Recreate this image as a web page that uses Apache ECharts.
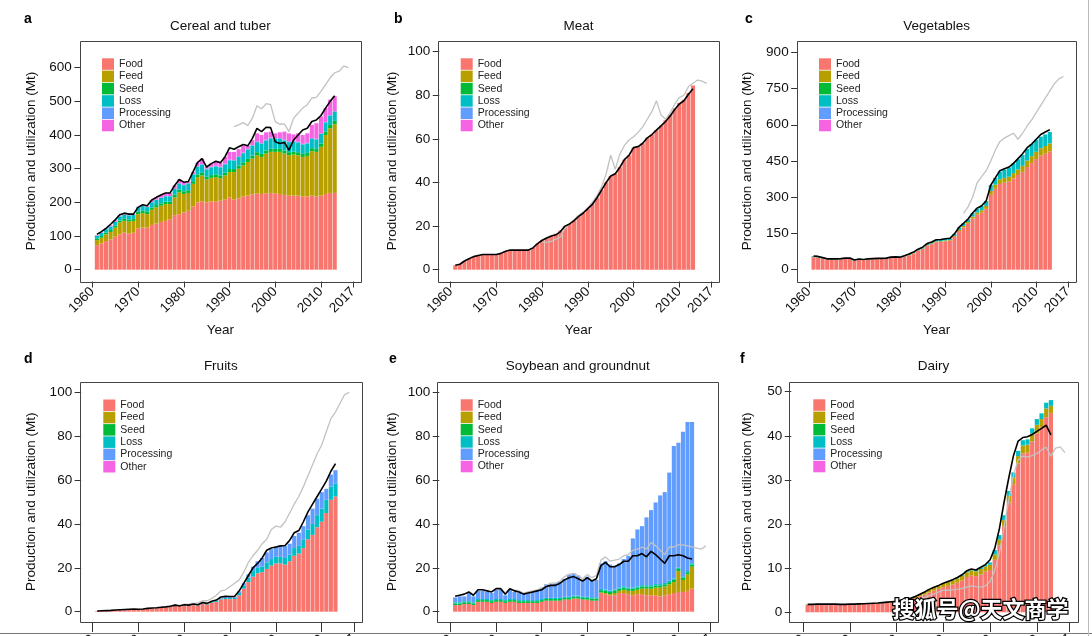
<!DOCTYPE html>
<html><head><meta charset="utf-8">
<script src="https://cdn.jsdelivr.net/npm/echarts@6/dist/echarts.min.js"></script>
<style>html,body{margin:0;padding:0;background:#fff}#c{width:1092px;height:636px}</style>
</head><body><div id="c"></div>
<script>
// ---------- categories & tick labels ----------
const YEARS = [1961,1962,1963,1964,1965,1966,1967,1968,1969,1970,1971,1972,1973,1974,1975,1976,1977,1978,1979,1980,
 1981,1982,1983,1984,1985,1986,1987,1988,1989,1990,1991,1992,1993,1994,1995,1996,1997,1998,1999,2000,
 2001,2002,2003,2004,2005,2006,2007,2008,2009,2010,2011,2012,2013,2014,2015,2016];
// category slots of the bar axis (one per year, 1958-2018)
const AXIS_YEARS = ['1958','1959','1960'].concat(YEARS.map(String), ['2017','2018']);
const CATS = ['Food','Feed','Seed','Loss','Processing','Other'];
const X_TICKS = [1960,1970,1980,1990,2000,2010,2017];
const A_TICKS = [0,100,200,300,400,500,600];
const B_TICKS = [0,20,40,60,80,100];
const C_TICKS = [0,150,300,450,600,750,900];
const D_TICKS = [0,20,40,60,80,100];
const E_TICKS = [0,20,40,60,80,100];
const F_TICKS = [0,10,20,30,40,50];

// ---------- a: Cereal and tuber (bars 1961-2013) ----------
const A_food = [73,78,85,90,98,105,110,108,110,122,125,125,133,137,142,145,150,162,165,170,175,188,200,203,200,203,202,205,208,215,208,212,218,220,224,226,225,227,228,227,225,222,220,220,220,217,218,220,218,220,225,228,228];
const A_feed = [15,17,20,22,27,35,35,35,35,43,43,40,45,48,48,50,45,53,65,55,53,67,75,77,68,70,73,67,72,75,82,88,92,100,106,114,110,118,122,123,125,123,120,122,120,118,120,132,132,145,175,192,204];
const A_seed = [5,5,5,6,6,6,6,6,6,7,7,7,7,7,7,7,7,8,8,8,8,8,8,8,8,8,8,8,8,9,9,9,9,9,9,9,9,9,9,9,9,9,9,9,9,9,9,9,9,10,10,10,10];
const A_loss = [8,9,10,10,11,12,12,12,12,13,14,14,15,15,16,16,16,17,18,18,19,20,22,24,22,23,24,24,25,26,25,26,27,28,29,30,30,30,31,30,30,30,30,29,29,28,28,28,28,28,27,27,27];
const A_proc = [1,1,1,1,1,1,1,1,1,1,1,1,1,1,1,1,1,1,1,1,2,2,2,2,2,2,2,2,2,2,2,2,2,2,2,2,2,2,2,2,2,2,2,2,2,2,2,2,2,2,2,2,2];
const A_other = [1,1,2,3,4,2,2,2,1,1,2,2,6,7,8,9,9,9,11,8,5,5,11,16,5,9,13,12,20,23,24,21,20,9,15,24,24,22,18,14,17,24,24,20,25,26,28,39,46,50,41,46,44];
const A_black = [105,113,123,135,148,163,168,165,165,185,193,190,207,215,222,228,228,250,268,260,262,290,318,330,305,315,322,318,335,362,358,365,372,368,390,420,410,423,422,380,375,378,355,385,400,415,420,440,445,458,480,500,517];
const A_grey = [425,430,437,428,450,487,478,493,490,440,432,433,410,450,465,480,490,510,512,530,550,570,585,590,605,600]; // 1991-2016

// ---------- b: Meat ----------
const B_food = [2,2.5,4,5,6,6.5,7,7,7,7,7.5,8.5,9,9,9,9,9,10,12,13.5,14.5,15.5,16.5,18,20,21,22.5,24.5,26,28,30.5,33,36.5,40,43,44,47,50.5,52.5,56,56.5,58,60.5,62,64,66,68.5,71,74,76.5,78,81,84.5];
const B_black = [2,2.5,4,5,6,6.5,7,7,7,7,7.5,8.5,9,9,9,9,9,10,12,13.5,14.5,15.5,16,17.5,20,21,22.5,24.5,26,28,30,33,36.5,40,43,44,47,50.5,52.5,56,56.5,58,60.5,62,64,66,68,70.5,73.5,76,77.5,80.5,83];
const B_grey = [12.5,12.5,13,14,15,19,21,23,25,26.5,28.5,31,34,38,44,52.5,46,53,57,59.5,61,63,65.5,69,72.5,77.5,71,69,72,76,79,80,84,85.5,87,86.5,85.5]; // 1980-2016

// ---------- c: Vegetables ----------
const C_food = [52,50,46,42,42,42,43,45,45,38,41,39,42,43,44,44,45,49,50,49,54,60,67,78,86,100,106,114,115,118,120,136,160,175,190,212,228,236,252,310,335,355,360,365,378,392,405,425,442,458,472,480,490];
const C_feed = [1,1,1,1,1,1,1,1,1,1,1,1,1,1,1,1,1,1,1,1,1,1,2,2,2,2,3,3,3,3,3,4,5,6,7,8,9,10,12,16,17,19,20,20,22,23,25,27,28,30,31,32,33];
const C_loss = [3,3,3,3,3,3,3,3,3,2,3,3,3,3,3,3,3,3,3,3,3,4,4,5,5,6,6,7,7,7,7,8,10,11,12,14,16,18,20,25,28,32,35,38,40,42,45,48,50,50,48,48,47];
const C_black = [57,55,50,45,45,45,46,48,48,40,44,42,45,46,47,47,48,52,53,52,58,65,73,85,93,108,115,124,125,128,130,148,175,192,210,235,255,265,285,350,380,410,418,425,440,460,480,505,520,540,560,570,580];
const C_grey = [233,260,300,360,385,410,450,495,530,545,555,565,540,565,595,620,650,680,710,740,770,790,800]; // 1994-2016

// ---------- d: Fruits ----------
const D_food = [0.3,0.4,0.5,0.6,0.7,0.8,0.9,1.0,1.1,1.0,1.1,1.3,1.5,1.6,1.8,2.0,2.2,2.6,2.3,2.8,2.6,3.0,2.8,3.6,3.3,4.0,4.5,5.6,5.8,5.7,5.8,7.5,10.5,13.5,16,17.5,18,19.5,21,22,22,21.5,23,25.5,26.5,29,33,35,38.5,41,45,51,52.5];
const D_loss = [0,0,0,0,0,0,0,0,0,0,0,0,0,0,0,0,0,0,0,0,0.2,0.2,0.2,0.3,0.3,0.3,0.4,0.4,0.5,0.5,0.6,1.0,1.5,2.0,2.5,2.5,2.5,3.0,3.0,3.0,3.0,3.0,3.0,3.5,3.5,4.0,4.5,5.0,5.5,6.0,6.0,6.0,6.0];
const D_proc = [0,0,0,0,0,0,0,0,0,0,0,0,0,0,0,0,0,0,0,0,0.1,0.1,0.1,0.2,0.2,0.3,0.3,0.4,0.4,0.5,0.6,0.8,1.0,1.5,2.0,3.0,4.0,4.5,4.5,4.5,5,5.5,5,5.5,6,6,6.5,7,7.5,7.5,5,5.5,6];
const D_black = [0.3,0.4,0.5,0.6,0.8,0.9,1.0,1.1,1.2,1.1,1.2,1.5,1.7,1.8,2.0,2.2,2.5,3.0,2.6,3.2,3.0,3.5,3.2,4.2,3.8,4.8,5.3,6.7,7.0,6.9,7.0,9.5,13,16.5,20,22,24.5,28,29,29.5,30,30.2,32.5,36,37,41,45.5,49,52.5,56,59.5,64,67.5];
const D_grey = [2.1,2.3,2.7,3.2,2.9,3.4,3.4,3.8,4.0,5.0,5.0,6.0,7.5,9.5,10,11.5,13,14.5,18,22.5,25.5,28,31,33,37.5,39,38.5,41,45,49,52.5,57,62,67,72,76,82,88,91,95,99,100]; // 1975-2016

// ---------- e: Soybean and groundnut ----------
const E_food = [3,3,3.5,3.5,3,4.5,4.5,4.5,4,4.5,4.5,4,4.5,4.5,4,4,4,4,4,4.5,5,5,5,5,5.5,5.5,6,6,5.5,5.5,5,5,8.5,8,7.5,7.5,8.5,8.5,8,7.5,8,8,7.5,7.5,7.5,7,7.5,8,8.5,9,9,9.5,10.5];
const E_feed = [0,0,0,0,0,0,0,0,0,0,0,0,0,0,0,0,0,0,0,0,0,0,0,0,0,0,0,0,0,0,0,0,0.3,0.5,0.5,1,1,1.5,1.5,2,2,2.5,3,3,3.5,4,4,4.5,5,9.5,5.5,7.5,10];
const E_seed = [0.8,0.8,0.8,0.8,0.8,0.8,0.8,0.8,0.8,0.8,0.8,0.8,0.8,0.8,0.8,0.8,0.8,0.8,0.8,0.8,0.8,0.8,0.8,0.8,0.8,0.8,0.8,0.8,0.8,0.8,1,1,1,1,1,1,1,1,1,1,1,1,1,1,1,1,1,1,1,1,1,1,1];
const E_loss = [0.5,0.5,0.5,0.5,0.5,0.5,0.5,0.5,0.5,0.5,0.5,0.5,0.5,0.5,0.5,0.5,0.5,0.5,0.5,0.5,0.5,0.5,0.5,0.5,0.5,0.5,0.5,0.5,0.5,0.5,0.6,0.6,0.6,0.6,0.6,0.6,0.6,0.6,0.6,0.6,0.6,0.6,0.6,0.6,0.6,0.6,0.6,0.6,0.6,0.6,0.6,0.6,0.6];
const E_proc = [2.2,2.7,2.2,3.7,2.7,3.7,3.7,3.2,3.2,4.2,4.2,2.2,4.2,3.2,3.2,2.7,3.2,3.7,4.2,5.2,6.2,6.2,6.7,7.2,8.2,10.2,10.2,9.2,7.7,9.2,7.4,7.9,11.6,12.9,11.9,10.9,10.9,12.4,14.4,22.3,25.9,26.9,30.9,34.2,37.2,40.4,41.4,49.3,60.4,56.9,65.9,67.9,64.4];
const E_black = [7,7.5,8,9,7.5,10,10,9.5,9,10.5,10.5,8,10.5,9.5,9,8,8.5,9,9.5,10,11.5,12,12,13,14.5,15.5,16,15,14,15.5,14,15,21,22.5,20.5,20.5,21.5,23,23,25.5,25.5,26.5,25,27.5,26,24,22,25.5,25.5,26,25.5,24.5,24];
const E_grey = [10.5,10.5,8.5,10.5,10,9.5,8.5,9,9.5,10,10.5,12,13,13,14,16,17,17.5,16.5,15,17,15.5,16.5,23.5,25,23,23.5,24,25.5,26,28,28.5,29.5,28.5,31.5,30,28,26,29.5,29.5,30.5,30.5,30,29.5,29,28.5,30]; // 1970-2016

// ---------- f: Dairy ----------
const F_food = [1.7,1.7,1.75,1.75,1.75,1.75,1.75,1.7,1.7,1.75,1.75,1.8,1.85,1.9,1.95,1.95,2.05,2.1,2.2,2.3,2.4,2.6,2.8,3.2,3.6,4.0,4.5,4.9,5.3,5.7,6.0,6.3,6.7,7.2,8.0,8.4,8.2,8.6,9.2,9.6,11.9,15.2,19.5,24.9,29.0,33.8,36.0,36.2,38.7,40.6,41.9,44.2,45.2];
const F_feed = [0.1,0.1,0.1,0.1,0.1,0.1,0.1,0.1,0.1,0.1,0.1,0.1,0.1,0.1,0.1,0.15,0.15,0.2,0.2,0.2,0.3,0.3,0.4,0.4,0.5,0.6,0.7,0.8,0.8,0.9,0.9,1.0,1.0,1.1,1.1,1.1,1.1,1.2,1.2,1.2,1.2,1.3,1.4,1.5,1.6,1.6,1.8,1.8,1.8,1.9,1.9,2.0,1.6];
const F_loss = [0,0,0,0,0,0,0,0,0,0,0,0,0,0,0,0,0,0,0,0,0,0,0,0,0,0,0,0,0,0,0.1,0.1,0.2,0.2,0.3,0.3,0.3,0.4,0.4,0.5,1.0,1.0,1.1,1.1,1.1,1.2,1.2,1.2,1.2,1.3,1.3,1.3,1.3];
const F_black = [1.8,1.8,1.85,1.85,1.85,1.85,1.85,1.8,1.8,1.85,1.85,1.9,1.95,2.0,2.05,2.1,2.2,2.3,2.4,2.5,2.7,2.9,3.2,3.6,4.1,4.6,5.2,5.7,6.1,6.6,7.0,7.4,7.9,8.5,9.4,9.8,9.6,10.2,10.8,11.9,14.5,19,25,30.5,35.5,38.8,39.6,39.8,40.3,41,41.7,42.4,40.2];
const F_grey = [1.2,1.5,1.8,2.2,2.6,3.0,3.4,3.8,4.2,4.6,5.0,5.0,5.1,5.2,5.4,5.7,6.0,5.8,5.7,6.0,7.0,9.5,13.5,19.5,25.5,31,34.6,35.4,35.2,35.5,36,36.8,37.4,35.4,37.2,37.5,36.2]; // 1980-2016

// ---------- layout (pixels) ----------
const COLORS = {Food:'#F8766D', Feed:'#B79F00', Seed:'#00BA38', Loss:'#00BFC4', Processing:'#619CFF', Other:'#F564E3'};
const FONT = '"Liberation Sans", Arial, Helvetica, sans-serif';
const PANELS = [
 {letter:'a', lx:24, title:'Cereal and tuber', bars:{Food:A_food,Feed:A_feed,Seed:A_seed,Loss:A_loss,Processing:A_proc,Other:A_other}, black:A_black, grey:A_grey, greyStart:1991, ticks:A_TICKS,
  left:80, right:360.7, x60:92.3, x17:353, top:40.5, bottom:281.5, y0:269.7, yTop:67.7, legX:102, legY:58.3, ytx:31.7},
 {letter:'b', lx:394, title:'Meat', bars:{Food:B_food}, black:B_black, grey:B_grey, greyStart:1980, ticks:B_TICKS,
  left:438, right:719, x60:450.7, x17:711.3, top:40.5, bottom:281.5, y0:269.7, yTop:51.7, legX:460.7, legY:58.3, ytx:392.3},
 {letter:'c', lx:745, title:'Vegetables', bars:{Food:C_food,Feed:C_feed,Loss:C_loss}, black:C_black, grey:C_grey, greyStart:1994, ticks:C_TICKS,
  left:797, right:1076.3, x60:809, x17:1068, top:40.5, bottom:281.5, y0:269.7, yTop:52.3, legX:819, legY:58.3, ytx:747},
 {letter:'d', lx:24, title:'Fruits', bars:{Food:D_food,Loss:D_loss,Processing:D_proc}, black:D_black, grey:D_grey, greyStart:1975, ticks:D_TICKS,
  left:80, right:361.5, x60:92.6, x17:353.8, top:381.5, bottom:622, y0:611.7, yTop:392.3, legX:103.3, legY:399.5, ytx:31.7},
 {letter:'e', lx:389, title:'Soybean and groundnut', bars:{Food:E_food,Feed:E_feed,Seed:E_seed,Loss:E_loss,Processing:E_proc}, black:E_black, grey:E_grey, greyStart:1970, ticks:E_TICKS,
  left:437.3, right:718.3, x60:450.6, x17:710.3, top:381.5, bottom:622, y0:611.7, yTop:392.3, legX:460.7, legY:399.3, ytx:392.3},
 {letter:'f', lx:740, title:'Dairy', bars:{Food:F_food,Feed:F_feed,Loss:F_loss}, black:F_black, grey:F_grey, greyStart:1980, ticks:F_TICKS,
  left:789, right:1078, x60:803, x17:1069.6, top:381.5, bottom:622, y0:612.3, yTop:391.7, legX:813.3, legY:399.3, ytx:747}
];

const grid = [], xAxis = [], yAxis = [], series = [], legend = [], graphic = [];
const BAR_YEARS = YEARS.slice(0, 53);
const fmt = v => String(v);
const X_MIN = Number(AXIS_YEARS[0]) - 0.5, X_MAX = Number(AXIS_YEARS[AXIS_YEARS.length - 1]) + 0.5;

PANELS.forEach((p, i) => {
  const bottomRow = i >= 3;
  const ppy = (p.x17 - p.x60) / 57;
  const gLeft = p.x60 - (1960 - X_MIN) * ppy;
  const gWidth = (X_MAX - X_MIN) * ppy;
  const topTick = p.ticks[p.ticks.length - 1];
  const ppu = (p.y0 - p.yTop) / topTick;
  grid.push({left: gLeft, top: p.top, width: gWidth, height: p.bottom - p.top, show: false,
    containLabel: false, outerBoundsMode: 'none'});
  // hidden category axis for the stacked bars
  xAxis.push({type: 'category', gridIndex: i, data: AXIS_YEARS, boundaryGap: true, position: 'bottom', show: false});
  // visible value axis for ticks, labels and the lines
  xAxis.push({type: 'value', gridIndex: i, min: X_MIN, max: X_MAX, position: 'bottom',
    axisLine: {show: false, onZero: false}, splitLine: {show: false},
    axisTick: {show: true, customValues: X_TICKS, length: bottomRow ? 10 : 6, lineStyle: {color: '#333'}},
    axisLabel: {customValues: X_TICKS, formatter: fmt, rotate: 45, margin: bottomRow ? 15 : 8, fontSize: 13.5, color: '#111', fontFamily: FONT}});
  yAxis.push({type: 'value', gridIndex: i,
    min: -(p.bottom - p.y0) / ppu, max: (p.y0 - p.top) / ppu,
    axisLine: {show: false, onZero: false}, splitLine: {show: false},
    axisTick: {show: true, customValues: p.ticks, length: 6.5, lineStyle: {color: '#333'}},
    axisLabel: {customValues: p.ticks, formatter: fmt, margin: 9, fontSize: 13.5, color: '#111', fontFamily: FONT}});
  CATS.forEach(c => {
    const arr = p.bars[c];
    if (!arr) return;
    series.push({type: 'bar', name: c, xAxisIndex: 2 * i, yAxisIndex: i, stack: 'st' + i,
      barWidth: ppy * 0.9, itemStyle: {color: COLORS[c]}, silent: true,
      data: arr.map((v, k) => [String(BAR_YEARS[k]), v])});
  });
  const gy = YEARS.slice(YEARS.indexOf(p.greyStart));
  series.push({type: 'line', name: 'grey' + i, xAxisIndex: 2 * i + 1, yAxisIndex: i, symbol: 'none', silent: true, z: 3,
    lineStyle: {color: '#C2C2C2', width: 1.3}, data: p.grey.map((v, k) => [gy[k], v])});
  series.push({type: 'line', name: 'black' + i, xAxisIndex: 2 * i + 1, yAxisIndex: i, symbol: 'none', silent: true, z: 4,
    lineStyle: {color: '#000', width: 1.6}, data: p.black.map((v, k) => [BAR_YEARS[k], v])});
  legend.push({data: CATS, left: p.legX, top: p.legY, orient: 'vertical', icon: 'rect', padding: 0,
    itemWidth: 12, itemHeight: 11.5, itemGap: 0.8, selectedMode: false,
    textStyle: {fontSize: 10.5, color: '#222', fontFamily: FONT}});
  // plot frame
  const bx = Math.round(p.left) + 0.5, by = Math.round(p.top) + 0.5;
  graphic.push({type: 'rect', z: 50, silent: true,
    shape: {x: bx, y: by, width: Math.round(p.right) - Math.round(p.left), height: Math.round(p.bottom) - Math.round(p.top)},
    style: {fill: null, stroke: '#444', lineWidth: 1}});
  const midX = (p.left + p.right) / 2;
  const rowTop = bottomRow ? 340 : 0;
  graphic.push({type: 'text', x: p.lx, y: rowTop + 26, style: {text: p.letter, font: 'bold 14px ' + FONT, fill: '#000', align: 'left', verticalAlign: 'bottom'}});
  graphic.push({type: 'text', x: midX, y: rowTop + 26.7, style: {text: p.title, font: '13.5px ' + FONT, fill: '#111', align: 'center', verticalAlign: 'middle'}});
  graphic.push({type: 'text', x: p.ytx, y: (p.top + p.bottom) / 2, rotation: Math.PI / 2,
    style: {text: 'Production and utilization (Mt)', font: '13.5px ' + FONT, fill: '#111', align: 'center', verticalAlign: 'middle'}});
  if (!bottomRow) graphic.push({type: 'text', x: midX, y: 330, style: {text: 'Year', font: '13.5px ' + FONT, fill: '#111', align: 'center', verticalAlign: 'middle'}});
});

graphic.push({type: 'text', x: 980.5, y: 609, z: 100, style: {text: '搜狐号@天文商学', font: 'bold 22px "Noto Sans CJK SC"', fill: '#fff', stroke: '#000', lineWidth: 2.5, align: 'center', verticalAlign: 'middle'}});
graphic.push({type: 'line', z: 100, shape: {x1: 0, y1: 633.5, x2: 1092, y2: 633.5}, style: {stroke: '#777', lineWidth: 1}});
graphic.push({type: 'line', z: 100, shape: {x1: 1088.5, y1: 0, x2: 1088.5, y2: 636}, style: {stroke: '#bbb', lineWidth: 1}});

const chart = echarts.init(document.getElementById('c'), null, {renderer: 'canvas'});
chart.setOption({animation: false, backgroundColor: '#fff', grid, xAxis, yAxis, series, legend, graphic});
</script>
</body></html>
